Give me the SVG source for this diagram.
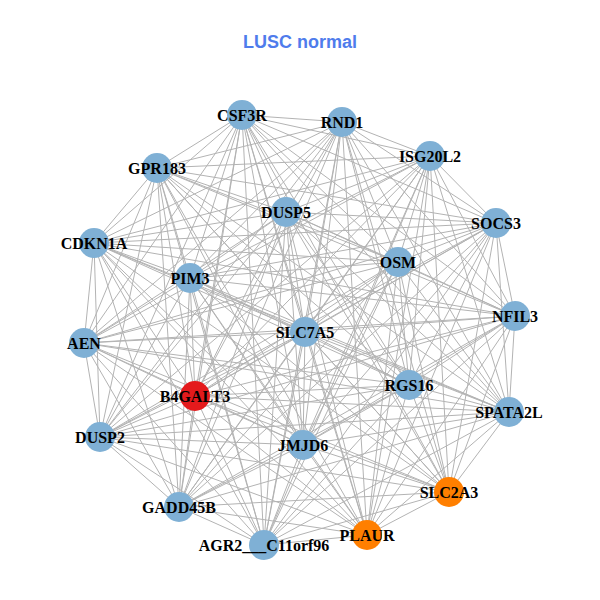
<svg xmlns="http://www.w3.org/2000/svg" width="600" height="600" viewBox="0 0 600 600">
<style>
.e line{stroke:#B3B3B3;stroke-width:1;fill:none}
.n circle{stroke:none}
.b{fill:#7FB0D5}
.r{fill:#E41A1C}
.o{fill:#FF7F00}
.l{font-family:"Liberation Serif","Times New Roman",serif;font-weight:bold;font-size:16px;fill:#000;text-anchor:middle}
.t{font-family:"Liberation Sans",Arial,sans-serif;font-weight:bold;font-size:18px;fill:#4F7CEC;text-anchor:middle}
</style>
<rect width="600" height="600" fill="#fff"/>
<text class="t" x="300" y="48">LUSC normal</text>
<g id="edges" class="e">
<line x1="242" y1="115" x2="342" y2="122"/>
<line x1="242" y1="115" x2="430" y2="156"/>
<line x1="242" y1="115" x2="157" y2="168"/>
<line x1="242" y1="115" x2="286" y2="212"/>
<line x1="242" y1="115" x2="496" y2="223"/>
<line x1="242" y1="115" x2="94" y2="243"/>
<line x1="242" y1="115" x2="398" y2="262"/>
<line x1="242" y1="115" x2="190" y2="278"/>
<line x1="242" y1="115" x2="515" y2="316"/>
<line x1="242" y1="115" x2="305" y2="332"/>
<line x1="242" y1="115" x2="84" y2="343"/>
<line x1="242" y1="115" x2="409" y2="385"/>
<line x1="242" y1="115" x2="195" y2="396"/>
<line x1="242" y1="115" x2="509" y2="412"/>
<line x1="242" y1="115" x2="100" y2="437"/>
<line x1="242" y1="115" x2="303" y2="445"/>
<line x1="242" y1="115" x2="449" y2="492"/>
<line x1="242" y1="115" x2="179" y2="507"/>
<line x1="242" y1="115" x2="367" y2="535"/>
<line x1="242" y1="115" x2="264" y2="545"/>
<line x1="342" y1="122" x2="430" y2="156"/>
<line x1="342" y1="122" x2="157" y2="168"/>
<line x1="342" y1="122" x2="286" y2="212"/>
<line x1="342" y1="122" x2="496" y2="223"/>
<line x1="342" y1="122" x2="94" y2="243"/>
<line x1="342" y1="122" x2="398" y2="262"/>
<line x1="342" y1="122" x2="190" y2="278"/>
<line x1="342" y1="122" x2="515" y2="316"/>
<line x1="342" y1="122" x2="305" y2="332"/>
<line x1="342" y1="122" x2="84" y2="343"/>
<line x1="342" y1="122" x2="409" y2="385"/>
<line x1="342" y1="122" x2="195" y2="396"/>
<line x1="342" y1="122" x2="509" y2="412"/>
<line x1="342" y1="122" x2="100" y2="437"/>
<line x1="342" y1="122" x2="303" y2="445"/>
<line x1="342" y1="122" x2="449" y2="492"/>
<line x1="342" y1="122" x2="179" y2="507"/>
<line x1="342" y1="122" x2="367" y2="535"/>
<line x1="342" y1="122" x2="264" y2="545"/>
<line x1="430" y1="156" x2="157" y2="168"/>
<line x1="430" y1="156" x2="286" y2="212"/>
<line x1="430" y1="156" x2="496" y2="223"/>
<line x1="430" y1="156" x2="94" y2="243"/>
<line x1="430" y1="156" x2="398" y2="262"/>
<line x1="430" y1="156" x2="190" y2="278"/>
<line x1="430" y1="156" x2="515" y2="316"/>
<line x1="430" y1="156" x2="305" y2="332"/>
<line x1="430" y1="156" x2="84" y2="343"/>
<line x1="430" y1="156" x2="409" y2="385"/>
<line x1="430" y1="156" x2="195" y2="396"/>
<line x1="430" y1="156" x2="509" y2="412"/>
<line x1="430" y1="156" x2="100" y2="437"/>
<line x1="430" y1="156" x2="303" y2="445"/>
<line x1="430" y1="156" x2="449" y2="492"/>
<line x1="430" y1="156" x2="179" y2="507"/>
<line x1="430" y1="156" x2="367" y2="535"/>
<line x1="430" y1="156" x2="264" y2="545"/>
<line x1="157" y1="168" x2="286" y2="212"/>
<line x1="157" y1="168" x2="496" y2="223"/>
<line x1="157" y1="168" x2="94" y2="243"/>
<line x1="157" y1="168" x2="398" y2="262"/>
<line x1="157" y1="168" x2="190" y2="278"/>
<line x1="157" y1="168" x2="515" y2="316"/>
<line x1="157" y1="168" x2="305" y2="332"/>
<line x1="157" y1="168" x2="84" y2="343"/>
<line x1="157" y1="168" x2="409" y2="385"/>
<line x1="157" y1="168" x2="195" y2="396"/>
<line x1="157" y1="168" x2="509" y2="412"/>
<line x1="157" y1="168" x2="100" y2="437"/>
<line x1="157" y1="168" x2="303" y2="445"/>
<line x1="157" y1="168" x2="449" y2="492"/>
<line x1="157" y1="168" x2="179" y2="507"/>
<line x1="157" y1="168" x2="367" y2="535"/>
<line x1="157" y1="168" x2="264" y2="545"/>
<line x1="286" y1="212" x2="496" y2="223"/>
<line x1="286" y1="212" x2="94" y2="243"/>
<line x1="286" y1="212" x2="398" y2="262"/>
<line x1="286" y1="212" x2="190" y2="278"/>
<line x1="286" y1="212" x2="515" y2="316"/>
<line x1="286" y1="212" x2="305" y2="332"/>
<line x1="286" y1="212" x2="84" y2="343"/>
<line x1="286" y1="212" x2="409" y2="385"/>
<line x1="286" y1="212" x2="195" y2="396"/>
<line x1="286" y1="212" x2="509" y2="412"/>
<line x1="286" y1="212" x2="100" y2="437"/>
<line x1="286" y1="212" x2="303" y2="445"/>
<line x1="286" y1="212" x2="449" y2="492"/>
<line x1="286" y1="212" x2="179" y2="507"/>
<line x1="286" y1="212" x2="367" y2="535"/>
<line x1="286" y1="212" x2="264" y2="545"/>
<line x1="496" y1="223" x2="94" y2="243"/>
<line x1="496" y1="223" x2="398" y2="262"/>
<line x1="496" y1="223" x2="190" y2="278"/>
<line x1="496" y1="223" x2="515" y2="316"/>
<line x1="496" y1="223" x2="305" y2="332"/>
<line x1="496" y1="223" x2="84" y2="343"/>
<line x1="496" y1="223" x2="409" y2="385"/>
<line x1="496" y1="223" x2="195" y2="396"/>
<line x1="496" y1="223" x2="509" y2="412"/>
<line x1="496" y1="223" x2="100" y2="437"/>
<line x1="496" y1="223" x2="303" y2="445"/>
<line x1="496" y1="223" x2="449" y2="492"/>
<line x1="496" y1="223" x2="179" y2="507"/>
<line x1="496" y1="223" x2="367" y2="535"/>
<line x1="496" y1="223" x2="264" y2="545"/>
<line x1="94" y1="243" x2="398" y2="262"/>
<line x1="94" y1="243" x2="190" y2="278"/>
<line x1="94" y1="243" x2="515" y2="316"/>
<line x1="94" y1="243" x2="305" y2="332"/>
<line x1="94" y1="243" x2="84" y2="343"/>
<line x1="94" y1="243" x2="409" y2="385"/>
<line x1="94" y1="243" x2="195" y2="396"/>
<line x1="94" y1="243" x2="509" y2="412"/>
<line x1="94" y1="243" x2="100" y2="437"/>
<line x1="94" y1="243" x2="303" y2="445"/>
<line x1="94" y1="243" x2="449" y2="492"/>
<line x1="94" y1="243" x2="179" y2="507"/>
<line x1="94" y1="243" x2="367" y2="535"/>
<line x1="94" y1="243" x2="264" y2="545"/>
<line x1="398" y1="262" x2="190" y2="278"/>
<line x1="398" y1="262" x2="515" y2="316"/>
<line x1="398" y1="262" x2="305" y2="332"/>
<line x1="398" y1="262" x2="84" y2="343"/>
<line x1="398" y1="262" x2="409" y2="385"/>
<line x1="398" y1="262" x2="195" y2="396"/>
<line x1="398" y1="262" x2="509" y2="412"/>
<line x1="398" y1="262" x2="100" y2="437"/>
<line x1="398" y1="262" x2="303" y2="445"/>
<line x1="398" y1="262" x2="449" y2="492"/>
<line x1="398" y1="262" x2="179" y2="507"/>
<line x1="398" y1="262" x2="367" y2="535"/>
<line x1="398" y1="262" x2="264" y2="545"/>
<line x1="190" y1="278" x2="515" y2="316"/>
<line x1="190" y1="278" x2="305" y2="332"/>
<line x1="190" y1="278" x2="84" y2="343"/>
<line x1="190" y1="278" x2="409" y2="385"/>
<line x1="190" y1="278" x2="195" y2="396"/>
<line x1="190" y1="278" x2="509" y2="412"/>
<line x1="190" y1="278" x2="100" y2="437"/>
<line x1="190" y1="278" x2="303" y2="445"/>
<line x1="190" y1="278" x2="449" y2="492"/>
<line x1="190" y1="278" x2="179" y2="507"/>
<line x1="190" y1="278" x2="367" y2="535"/>
<line x1="190" y1="278" x2="264" y2="545"/>
<line x1="515" y1="316" x2="305" y2="332"/>
<line x1="515" y1="316" x2="84" y2="343"/>
<line x1="515" y1="316" x2="409" y2="385"/>
<line x1="515" y1="316" x2="195" y2="396"/>
<line x1="515" y1="316" x2="509" y2="412"/>
<line x1="515" y1="316" x2="100" y2="437"/>
<line x1="515" y1="316" x2="303" y2="445"/>
<line x1="515" y1="316" x2="449" y2="492"/>
<line x1="515" y1="316" x2="179" y2="507"/>
<line x1="515" y1="316" x2="367" y2="535"/>
<line x1="515" y1="316" x2="264" y2="545"/>
<line x1="305" y1="332" x2="84" y2="343"/>
<line x1="305" y1="332" x2="409" y2="385"/>
<line x1="305" y1="332" x2="195" y2="396"/>
<line x1="305" y1="332" x2="509" y2="412"/>
<line x1="305" y1="332" x2="100" y2="437"/>
<line x1="305" y1="332" x2="303" y2="445"/>
<line x1="305" y1="332" x2="449" y2="492"/>
<line x1="305" y1="332" x2="179" y2="507"/>
<line x1="305" y1="332" x2="367" y2="535"/>
<line x1="305" y1="332" x2="264" y2="545"/>
<line x1="84" y1="343" x2="409" y2="385"/>
<line x1="84" y1="343" x2="195" y2="396"/>
<line x1="84" y1="343" x2="509" y2="412"/>
<line x1="84" y1="343" x2="100" y2="437"/>
<line x1="84" y1="343" x2="303" y2="445"/>
<line x1="84" y1="343" x2="449" y2="492"/>
<line x1="84" y1="343" x2="179" y2="507"/>
<line x1="84" y1="343" x2="367" y2="535"/>
<line x1="84" y1="343" x2="264" y2="545"/>
<line x1="409" y1="385" x2="195" y2="396"/>
<line x1="409" y1="385" x2="509" y2="412"/>
<line x1="409" y1="385" x2="100" y2="437"/>
<line x1="409" y1="385" x2="303" y2="445"/>
<line x1="409" y1="385" x2="449" y2="492"/>
<line x1="409" y1="385" x2="179" y2="507"/>
<line x1="409" y1="385" x2="367" y2="535"/>
<line x1="409" y1="385" x2="264" y2="545"/>
<line x1="195" y1="396" x2="509" y2="412"/>
<line x1="195" y1="396" x2="100" y2="437"/>
<line x1="195" y1="396" x2="303" y2="445"/>
<line x1="195" y1="396" x2="449" y2="492"/>
<line x1="195" y1="396" x2="179" y2="507"/>
<line x1="195" y1="396" x2="367" y2="535"/>
<line x1="195" y1="396" x2="264" y2="545"/>
<line x1="509" y1="412" x2="100" y2="437"/>
<line x1="509" y1="412" x2="303" y2="445"/>
<line x1="509" y1="412" x2="449" y2="492"/>
<line x1="509" y1="412" x2="179" y2="507"/>
<line x1="509" y1="412" x2="367" y2="535"/>
<line x1="509" y1="412" x2="264" y2="545"/>
<line x1="100" y1="437" x2="303" y2="445"/>
<line x1="100" y1="437" x2="449" y2="492"/>
<line x1="100" y1="437" x2="179" y2="507"/>
<line x1="100" y1="437" x2="367" y2="535"/>
<line x1="100" y1="437" x2="264" y2="545"/>
<line x1="303" y1="445" x2="449" y2="492"/>
<line x1="303" y1="445" x2="179" y2="507"/>
<line x1="303" y1="445" x2="367" y2="535"/>
<line x1="303" y1="445" x2="264" y2="545"/>
<line x1="449" y1="492" x2="179" y2="507"/>
<line x1="449" y1="492" x2="367" y2="535"/>
<line x1="449" y1="492" x2="264" y2="545"/>
<line x1="179" y1="507" x2="367" y2="535"/>
<line x1="179" y1="507" x2="264" y2="545"/>
<line x1="367" y1="535" x2="264" y2="545"/>
</g>
<g id="node-CSF3R" class="n"><circle class="b" cx="242" cy="115" r="15"/></g>
<g id="node-RND1" class="n"><circle class="b" cx="342" cy="122" r="15"/></g>
<g id="node-ISG20L2" class="n"><circle class="b" cx="430" cy="156" r="15"/></g>
<g id="node-GPR183" class="n"><circle class="b" cx="157" cy="168" r="15"/></g>
<g id="node-DUSP5" class="n"><circle class="b" cx="286" cy="212" r="15"/></g>
<g id="node-SOCS3" class="n"><circle class="b" cx="496" cy="223" r="15"/></g>
<g id="node-CDKN1A" class="n"><circle class="b" cx="94" cy="243" r="15"/></g>
<g id="node-OSM" class="n"><circle class="b" cx="398" cy="262" r="15"/></g>
<g id="node-PIM3" class="n"><circle class="b" cx="190" cy="278" r="15"/></g>
<g id="node-NFIL3" class="n"><circle class="b" cx="515" cy="316" r="15"/></g>
<g id="node-SLC7A5" class="n"><circle class="b" cx="305" cy="332" r="15"/></g>
<g id="node-AEN" class="n"><circle class="b" cx="84" cy="343" r="15"/></g>
<g id="node-RGS16" class="n"><circle class="b" cx="409" cy="385" r="15"/></g>
<g id="node-B4GALT3" class="n"><circle class="r" cx="195" cy="396" r="15"/></g>
<g id="node-SPATA2L" class="n"><circle class="b" cx="509" cy="412" r="15"/></g>
<g id="node-DUSP2" class="n"><circle class="b" cx="100" cy="437" r="15"/></g>
<g id="node-JMJD6" class="n"><circle class="b" cx="303" cy="445" r="15"/></g>
<g id="node-SLC2A3" class="n"><circle class="o" cx="449" cy="492" r="15"/></g>
<g id="node-GADD45B" class="n"><circle class="b" cx="179" cy="507" r="15"/></g>
<g id="node-PLAUR" class="n"><circle class="o" cx="367" cy="535" r="15"/></g>
<g id="node-AGR2" class="n"><circle class="b" cx="264" cy="545" r="15"/></g>
<g id="labels">
<text class="l" x="242" y="121">CSF3R</text>
<text class="l" x="342" y="128">RND1</text>
<text class="l" x="430" y="162">ISG20L2</text>
<text class="l" x="157" y="174">GPR183</text>
<text class="l" x="286" y="218">DUSP5</text>
<text class="l" x="496" y="229">SOCS3</text>
<text class="l" x="94" y="249">CDKN1A</text>
<text class="l" x="398" y="268">OSM</text>
<text class="l" x="190" y="284">PIM3</text>
<text class="l" x="515" y="322">NFIL3</text>
<text class="l" x="305" y="338">SLC7A5</text>
<text class="l" x="84" y="349">AEN</text>
<text class="l" x="409" y="391">RGS16</text>
<text class="l" x="195" y="402">B4GALT3</text>
<text class="l" x="509" y="418">SPATA2L</text>
<text class="l" x="100" y="443">DUSP2</text>
<text class="l" x="303" y="451">JMJD6</text>
<text class="l" x="449" y="498">SLC2A3</text>
<text class="l" x="179" y="513">GADD45B</text>
<text class="l" x="367" y="541">PLAUR</text>
<text class="l" x="264" y="551">AGR2___C11orf96</text>
</g>
</svg>
